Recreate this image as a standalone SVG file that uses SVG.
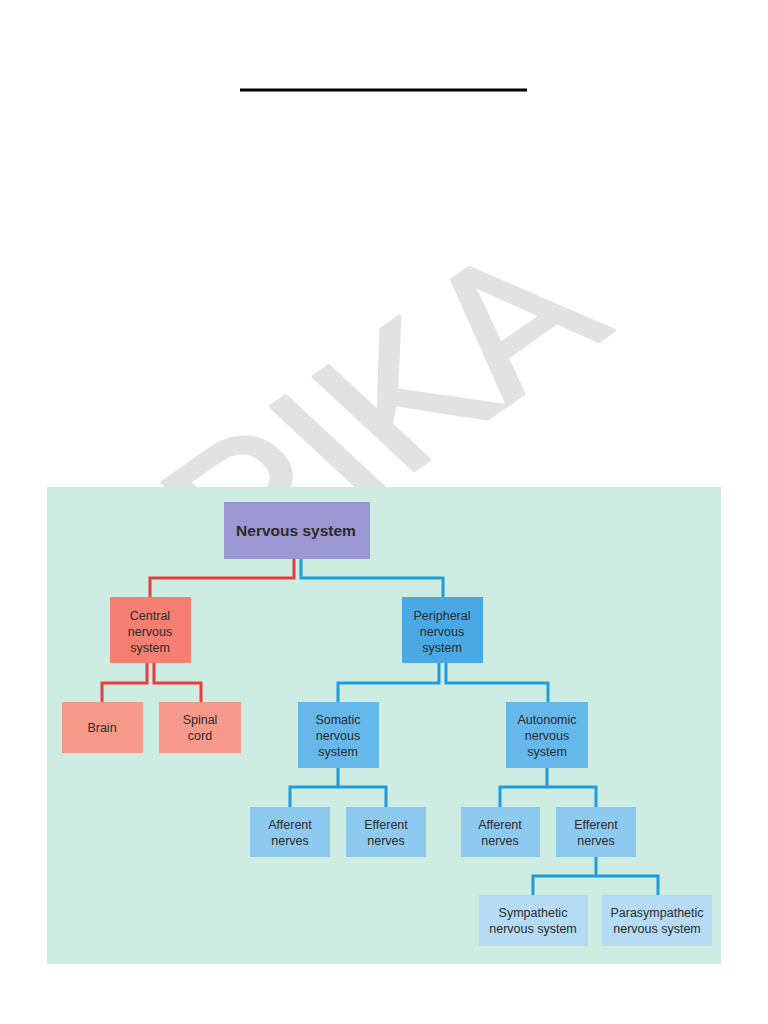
<svg xmlns="http://www.w3.org/2000/svg" width="768" height="1024" viewBox="0 0 768 1024">
<style>
text{font-family:"Liberation Sans",Arial,sans-serif;font-size:12.5px;fill:#2b2b2b;text-anchor:middle}
.r{fill:none;stroke:#ee3b3f;stroke-width:3}
.b{fill:none;stroke:#1e9ce0;stroke-width:3}
</style>
<rect width="768" height="1024" fill="#fff"/>
<line x1="240" y1="90" x2="527" y2="90" stroke="#000" stroke-width="3"/>
<text transform="translate(250,585) rotate(-35) skewX(12)" style="font-size:195px;fill:#e2e2e2;text-anchor:start;stroke:#e2e2e2;stroke-width:4;stroke-linejoin:round">PIKA</text>
<rect x="47" y="487" width="674" height="477" fill="#cdede3"/>
<g id="connectors">
<path class="r" d="M294 559V578H150V597"/>
<path class="b" d="M301 559V578H443V597"/>
<path class="r" d="M147 663V683H102V702M154 663V683H201V702"/>
<path class="b" d="M439 663V683H338V702M446 663V683H548V702"/>
<path class="b" d="M338 768V787M290 807V787H386V807"/>
<path class="b" d="M547 768V787M500 807V787H596V807"/>
<path class="b" d="M596 857V876M533 895V876H658V895"/>
</g>
<g id="n-nervous"><rect x="224" y="502" width="146" height="57" fill="#9b97d3"/><text x="296" y="536" style="font-size:15.5px;font-weight:bold">Nervous system</text></g>
<g id="n-cns"><rect x="110" y="597" width="81" height="66" fill="#f47f72"/><text x="150" y="620">Central</text><text x="150" y="636">nervous</text><text x="150" y="652">system</text></g>
<g id="n-pns"><rect x="402" y="597" width="81" height="66" fill="#4aa8e4"/><text x="442" y="620">Peripheral</text><text x="442" y="636">nervous</text><text x="442" y="652">system</text></g>
<g id="n-brain"><rect x="62" y="702" width="81" height="51" fill="#f79a8c"/><text x="102" y="732">Brain</text></g>
<g id="n-spinal"><rect x="159" y="702" width="82" height="51" fill="#f79a8c"/><text x="200" y="724">Spinal</text><text x="200" y="740">cord</text></g>
<g id="n-somatic"><rect x="298" y="702" width="81" height="66" fill="#66b7ea"/><text x="338" y="724">Somatic</text><text x="338" y="740">nervous</text><text x="338" y="756">system</text></g>
<g id="n-autonomic"><rect x="506" y="702" width="82" height="66" fill="#66b7ea"/><text x="547" y="724">Autonomic</text><text x="547" y="740">nervous</text><text x="547" y="756">system</text></g>
<g id="n-aff1"><rect x="250" y="807" width="80" height="50" fill="#8ecaf0"/><text x="290" y="829">Afferent</text><text x="290" y="845">nerves</text></g>
<g id="n-eff1"><rect x="346" y="807" width="80" height="50" fill="#8ecaf0"/><text x="386" y="829">Efferent</text><text x="386" y="845">nerves</text></g>
<g id="n-aff2"><rect x="461" y="807" width="79" height="50" fill="#8ecaf0"/><text x="500" y="829">Afferent</text><text x="500" y="845">nerves</text></g>
<g id="n-eff2"><rect x="556" y="807" width="80" height="50" fill="#8ecaf0"/><text x="596" y="829">Efferent</text><text x="596" y="845">nerves</text></g>
<g id="n-symp"><rect x="479" y="895" width="109" height="51" fill="#b5dbf5"/><text x="533" y="917">Sympathetic</text><text x="533" y="933">nervous system</text></g>
<g id="n-para"><rect x="602" y="895" width="110" height="51" fill="#b5dbf5"/><text x="657" y="917">Parasympathetic</text><text x="657" y="933">nervous system</text></g>
</svg>
